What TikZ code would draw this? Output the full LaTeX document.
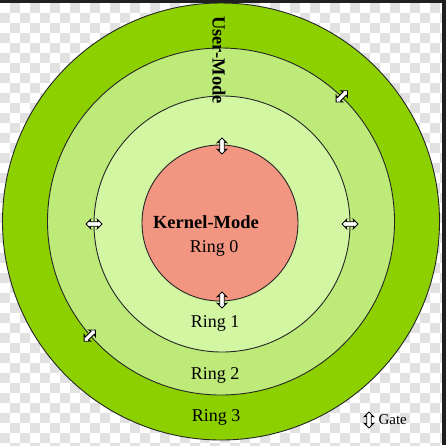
\documentclass[tikz,border=0pt]{standalone}
\usepackage{fontspec}
\setmainfont{Liberation Serif}
\usetikzlibrary{positioning,shapes.arrows}
\definecolor{checkgrey}{HTML}{E2E2E2}
\definecolor{ringthree}{HTML}{8CD000}
\definecolor{ringtwo}{HTML}{BDEA78}
\definecolor{ringone}{HTML}{D3F6A2}
\definecolor{kernelred}{HTML}{F29682}
\tikzset{
  ring/.style={circle,draw=black!85,line width=0.9pt,inner sep=0pt},
  gate/.style={double arrow,draw=black,fill=white,line width=0.9pt,inner xsep=0pt,
    inner ysep=1.8pt,minimum height=16pt,minimum width=9pt,
    double arrow head extend=2.4pt,double arrow head indent=0.6pt},
  lbl/.style={font=\fontsize{18}{20}\selectfont},
  boldlbl/.style={font=\fontsize{18.5}{20}\selectfont\bfseries}
}
\begin{document}
\begin{tikzpicture}[x=1pt,y=-1pt]
\useasboundingbox (0,0) rectangle (446,445);
% background
\fill[white] (0,0) rectangle (446,445);
\foreach \i in {0,...,44}{\foreach \j in {0,...,44}{
  \ifodd\numexpr\i+\j\relax \fill[checkgrey] (10*\i,3+10*\j) rectangle ++(10,10);\fi}}
\fill[black!88] (0,0) rectangle (446,3);
\fill[black!88] (442,0) rectangle (446,445);
% rings
\node[ring,fill=ringthree,minimum size=437pt] (ring3) at (221,221.5) {};
\node[ring,fill=ringtwo,minimum size=347pt] (ring2) at (221,221.5) {};
\node[ring,fill=ringone,minimum size=256pt] (ring1) at (222,224) {};
\node[ring,fill=kernelred,minimum size=156pt] (kernel) at (220,223) {};
% labels
\node[boldlbl,rotate=-90] (user) at (219,60) {User-Mode};
\node[boldlbl] (kmode) at (206,222) {Kernel-Mode};
\node[lbl] (r0) at (214,248) {Ring 0};
\node[lbl] (r1) at (215,323) {Ring 1};
\node[lbl] (r2) at (215,375) {Ring 2};
\node[lbl] (r3) at (216,417) {Ring 3};
% gates
\node[gate,rotate=90] (g0top) at (222,146) {};
\node[gate,rotate=90] (g0bot) at (222,300) {};
\node[gate] (g1left) at (94,224) {};
\node[gate] (g1right) at (350,224) {};
\node[gate,rotate=45] (g2ne) at (ring2.46) {};
\node[gate,rotate=45] (g2sw) at (ring2.221) {};
% key
\node[gate,rotate=90] (gatekey) at (369,420) {};
\node[font=\fontsize{15}{17}\selectfont,right=6pt of gatekey.center,anchor=west] (gatetxt) {Gate};
\end{tikzpicture}
\end{document}
